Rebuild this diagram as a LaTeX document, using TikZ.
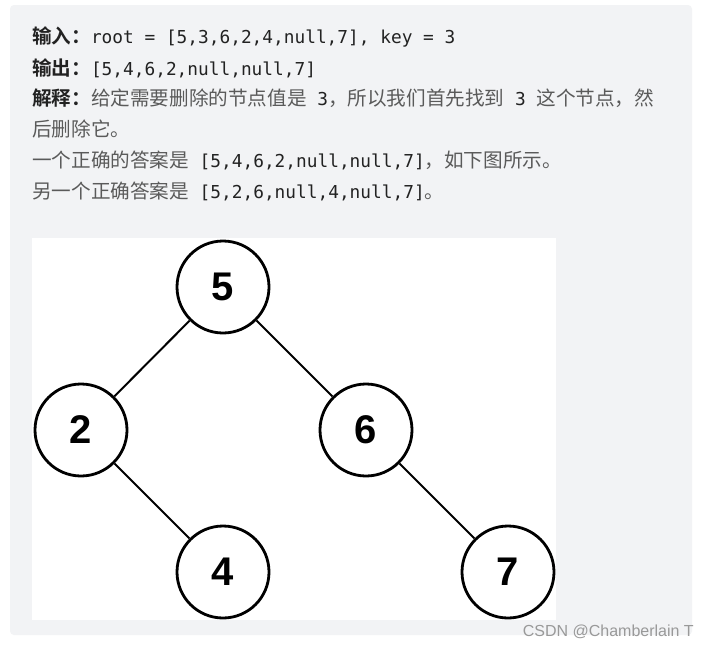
\documentclass[tikz,border=0pt]{standalone}
\usepackage{fontspec}
\setmainfont{Liberation Sans}
\newfontfamily\cjk{Noto Sans CJK SC}
\newfontfamily\cjkb{Noto Sans CJK SC Bold}
\newfontfamily\mono{DejaVu Sans Mono}
\definecolor{panel}{HTML}{F2F3F5}
\definecolor{bodyc}{HTML}{5A5A5A}
\definecolor{codec}{HTML}{222222}
\begin{document}
\begin{tikzpicture}[x=1pt,y=-1pt,
  txt/.style={anchor=west,inner sep=0pt,font=\cjk\fontsize{19.6}{21}\selectfont,text=bodyc},
  tnode/.style={circle,draw=black,line width=2.8pt,minimum size=92pt,fill=white,inner sep=0pt,font=\fontsize{40}{42}\selectfont\bfseries},
  edge/.style={line width=2pt}]
\newcommand\cd[1]{{\mono\fontsize{17.8}{20}\selectfont\color{codec}#1}}
\newcommand\msp{\cd{\ }}
\newcommand\lb[1]{{\cjkb\color{codec}#1}}
\useasboundingbox (0,0) rectangle (708,648);
\fill[white] (0,0) rectangle (708,648);
\fill[panel,rounded corners=4pt] (10,5) rectangle (692,635);
\fill[white] (32,238) rectangle (556,620);
\node[txt] (l1) at (32,37) {\lb{输入：}\cd{root = [5,3,6,2,4,null,7], key = 3}};
\node[txt] (l2) at (32,68) {\lb{输出：}\cd{[5,4,6,2,null,null,7]}};
\node[txt] (l3) at (32,98) {\lb{解释：}给定需要删除的节点值是\msp\cd{3}，所以我们首先找到\msp\cd{3}\msp 这个节点，然};
\node[txt] (l4) at (32,129) {后删除它。};
\node[txt] (l5) at (32,160) {一个正确的答案是\msp\cd{[5,4,6,2,null,null,7]}，如下图所示。};
\node[txt] (l6) at (32,191) {另一个正确答案是\msp\cd{[5,2,6,null,4,null,7]}。};
\node[tnode] (n5) at (223,287) {5};
\node[tnode] (n2) at (81,430) {2};
\node[tnode] (n6) at (366,430) {6};
\node[tnode] (n4) at (223,572) {4};
\node[tnode] (n7) at (508,572) {7};
\draw[edge] (n5) -- (n2);
\draw[edge] (n5) -- (n6);
\draw[edge] (n2) -- (n4);
\draw[edge] (n6) -- (n7);
\node[anchor=east,inner sep=0pt,font=\fontsize{16}{18}\selectfont,text=gray!80] (wm) at (694,632) {CSDN @Chamberlain T};
\end{tikzpicture}
\end{document}
